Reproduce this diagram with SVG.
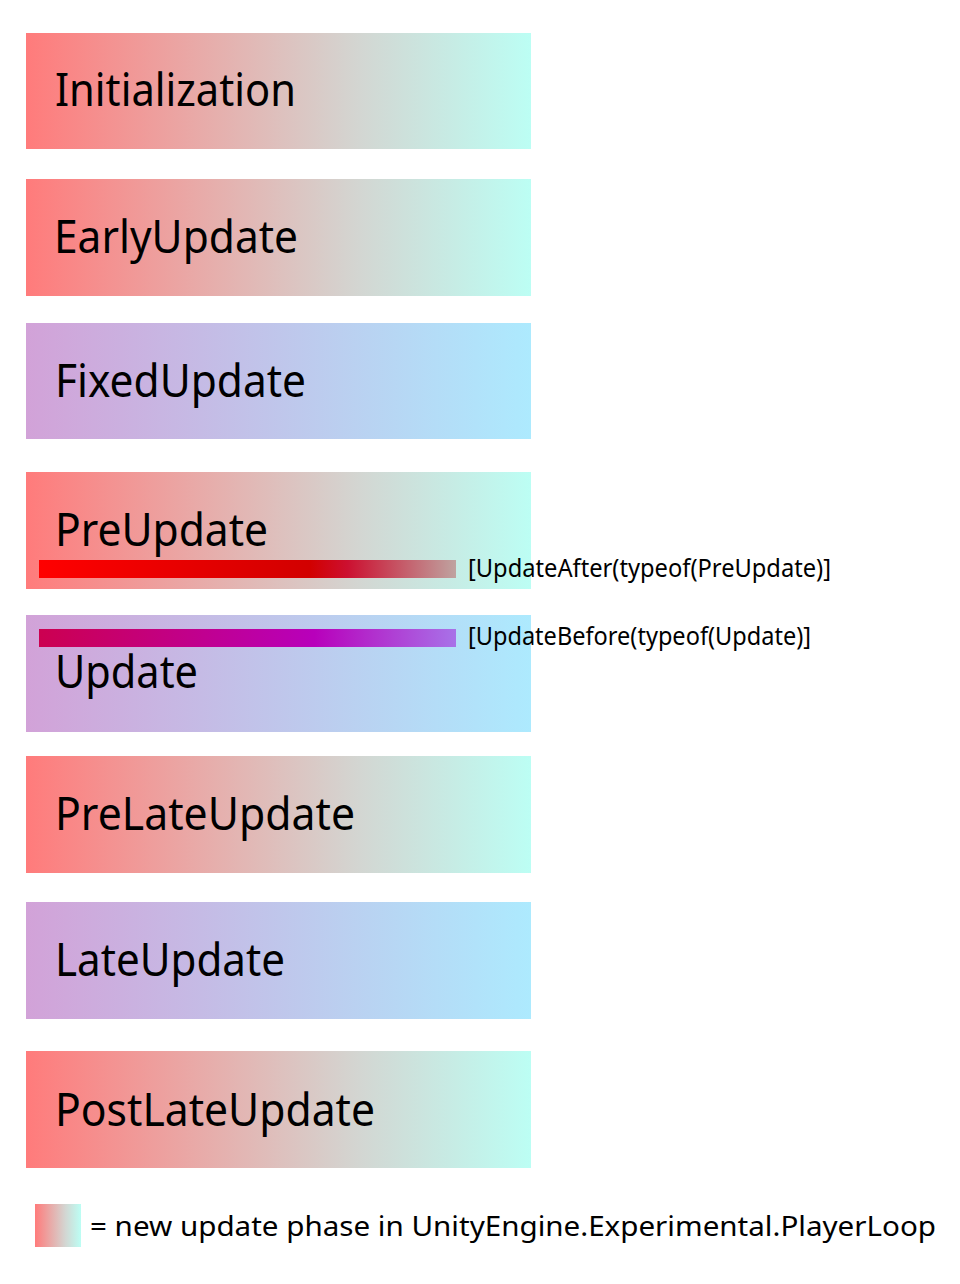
<svg xmlns="http://www.w3.org/2000/svg" width="960" height="1284" viewBox="0 0 960 1284">
<defs>
<linearGradient id="gNew" x1="0" y1="0" x2="1" y2="0">
<stop offset="0" stop-color="#FF7B7B"/>
<stop offset="0.66" stop-color="#D3D6D2"/>
<stop offset="1" stop-color="#BCFEF4"/>
</linearGradient>
<linearGradient id="gOld" x1="0" y1="0" x2="1" y2="0">
<stop offset="0" stop-color="#D2A2D8"/>
<stop offset="1" stop-color="#ADEAFE"/>
</linearGradient>
<linearGradient id="gAfter" x1="0" y1="0" x2="1" y2="0">
<stop offset="0" stop-color="#FF0000"/>
<stop offset="0.65" stop-color="#D20000"/>
<stop offset="0.74" stop-color="#CC1030"/>
<stop offset="1" stop-color="#BFA3A0"/>
</linearGradient>
<linearGradient id="gBefore" x1="0" y1="0" x2="1" y2="0">
<stop offset="0" stop-color="#CC0050"/>
<stop offset="0.66" stop-color="#B800BB"/>
<stop offset="1" stop-color="#A872E8"/>
</linearGradient>
</defs>
<style>
.new{fill:url(#gNew)}
.old{fill:url(#gOld)}
.lbl{font-family:"Noto Sans","Open Sans","DejaVu Sans",sans-serif;font-size:46px;fill:#000}
.ann{font-family:"Noto Sans","Open Sans","DejaVu Sans",sans-serif;font-size:25px;fill:#000}
.leg{font-family:"Noto Sans","Open Sans","DejaVu Sans",sans-serif;font-size:28px;fill:#000}
</style>
<rect width="960" height="1284" fill="#FFFFFF"/>
<g id="initialization">
<rect class="new" x="26" y="33" width="505" height="116"/>
<text class="lbl" x="55" y="106" textLength="241" lengthAdjust="spacingAndGlyphs">Initialization</text>
</g>
<g id="earlyupdate">
<rect class="new" x="26" y="179" width="505" height="117"/>
<text class="lbl" x="54" y="253" textLength="244" lengthAdjust="spacingAndGlyphs">EarlyUpdate</text>
</g>
<g id="fixedupdate">
<rect class="old" x="26" y="323" width="505" height="116"/>
<text class="lbl" x="55" y="397" textLength="251" lengthAdjust="spacingAndGlyphs">FixedUpdate</text>
</g>
<g id="preupdate">
<rect class="new" x="26" y="472" width="505" height="117"/>
<text class="lbl" x="55" y="546" textLength="213" lengthAdjust="spacingAndGlyphs">PreUpdate</text>
</g>
<g id="update">
<rect class="old" x="26" y="615" width="505" height="117"/>
<text class="lbl" x="55" y="688" textLength="143" lengthAdjust="spacingAndGlyphs">Update</text>
</g>
<g id="prelateupdate">
<rect class="new" x="26" y="756" width="505" height="117"/>
<text class="lbl" x="55" y="830" textLength="300" lengthAdjust="spacingAndGlyphs">PreLateUpdate</text>
</g>
<g id="lateupdate">
<rect class="old" x="26" y="902" width="505" height="117"/>
<text class="lbl" x="55" y="976" textLength="230" lengthAdjust="spacingAndGlyphs">LateUpdate</text>
</g>
<g id="postlateupdate">
<rect class="new" x="26" y="1051" width="505" height="117"/>
<text class="lbl" x="55" y="1126" textLength="320" lengthAdjust="spacingAndGlyphs">PostLateUpdate</text>
</g>
<g id="connectors">
<g id="update-after">
<rect x="39" y="560" width="417" height="18" fill="url(#gAfter)"/>
<text class="ann" x="468" y="577" textLength="363" lengthAdjust="spacingAndGlyphs">[UpdateAfter(typeof(PreUpdate)]</text>
</g>
<g id="update-before">
<rect x="39" y="629" width="417" height="18" fill="url(#gBefore)"/>
<text class="ann" x="468" y="645" textLength="343" lengthAdjust="spacingAndGlyphs">[UpdateBefore(typeof(Update)]</text>
</g>
</g>
<g id="legend">
<rect class="new" x="35" y="1204" width="46" height="43"/>
<text class="leg" x="90" y="1236" textLength="846" lengthAdjust="spacingAndGlyphs">= new update phase in UnityEngine.Experimental.PlayerLoop</text>
</g>
</svg>
